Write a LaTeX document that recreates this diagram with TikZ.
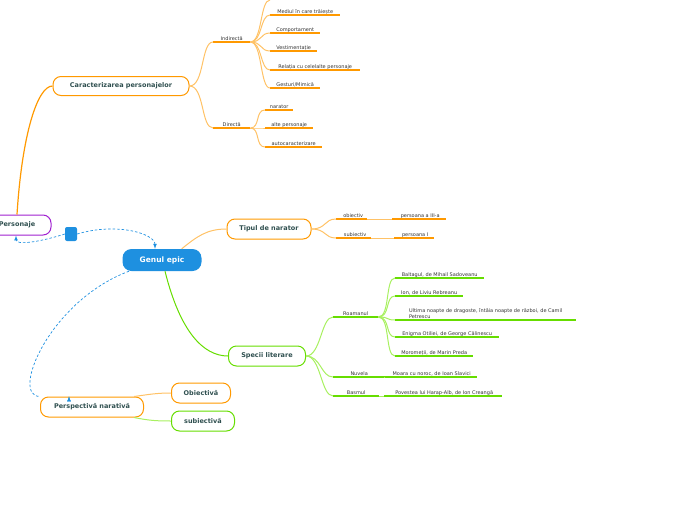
\documentclass[tikz,border=0pt]{standalone}
\usepackage{fontspec}
\setmainfont{DejaVu Sans}
\begin{document}
\definecolor{org}{HTML}{FF9900}
\definecolor{orgl}{HTML}{FFC266}
\definecolor{grn}{HTML}{66DD00}
\definecolor{grnl}{HTML}{A8F060}
\definecolor{blu}{HTML}{1E90E0}
\definecolor{pur}{HTML}{A020D0}
\definecolor{txt}{HTML}{333333}
\definecolor{ntx}{HTML}{2F4F4F}
\newcommand{\leaf}[6]{%
  \node[lf,minimum width=#3pt-#2pt,anchor=south west] (#1) at (#2,-#4) {#5};
  \draw[#6,line width=1.3pt] (#1.south west) -- (#1.south east);}
\begin{tikzpicture}[x=1pt,y=1pt,
  lf/.style={font=\fontsize{5}{6}\selectfont,text=txt,inner sep=1.5pt,align=left,text depth=0pt},
  topic/.style={draw,rounded corners=8pt,line width=1pt,font=\bfseries\fontsize{6.5}{8}\selectfont,text=ntx,inner sep=0pt},
  bro/.style={orgl,line width=1pt},
  brg/.style={grnl,line width=1pt},
  dsh/.style={blu,dashed,line width=0.7pt,dash pattern=on 2.5pt off 2pt,-latex}]
\useasboundingbox (0,0) rectangle (697,-520);
% main
\node[fill=blu,rounded corners=9pt,minimum width=79pt,minimum height=22pt,text=white,font=\bfseries\fontsize{7.5}{9}\selectfont,inner sep=0pt] (g) at (162,-260) {Genul epic};
\node[topic,draw=pur,minimum width=68pt,minimum height=20pt] (p) at (17,-225) {Personaje};
\node[fill=blu,rounded corners=2pt,minimum width=12pt,minimum height=14pt,inner sep=0pt] (sq) at (71,-234) {};
\node[topic,draw=org,minimum width=136pt,minimum height=19pt] (c) at (121,-86) {Caracterizarea personajelor};
\node[topic,draw=org,minimum width=84pt,minimum height=20pt] (t) at (269,-229) {Tipul de narator};
\node[topic,draw=grn,minimum width=77pt,minimum height=20pt] (s) at (267,-356) {Specii literare};
\node[topic,draw=org,minimum width=103pt,minimum height=20pt] (pn) at (92,-407) {Perspectivă narativă};
\node[topic,draw=org,minimum width=59pt,minimum height=20pt] (ob) at (201,-393) {Obiectivă};
\node[topic,draw=grn,minimum width=63pt,minimum height=20pt] (sb) at (203,-421) {subiectivă};
% leaves
\leaf{ind}{213}{250}{42}{Indirectă}{org}
\leaf{dir}{213}{250}{128}{Directă}{org}
\coordinate (top) at (270,0);
\leaf{m}{270}{340}{15}{Mediul în care trăiește}{org}
\leaf{co}{270}{320}{33}{Comportament}{org}
\leaf{ve}{270}{317}{51}{Vestimentație}{org}
\leaf{re}{270}{360}{70}{Relația cu celelalte personaje}{org}
\leaf{ge}{270}{320}{88}{Gesturi/Mimică}{org}
\leaf{na}{265}{293}{110}{narator}{org}
\leaf{al}{265}{313}{128}{alte personaje}{org}
\leaf{au}{265}{322}{147}{autocaracterizare}{org}
\leaf{obj}{336}{367}{219}{\hspace*{3pt}obiectiv}{org}
\leaf{p3}{392}{446}{219}{\hspace*{2pt}persoana a III-a}{org}
\leaf{sub}{336}{371}{238}{\hspace*{3pt}subiectiv}{org}
\leaf{p1}{394}{434}{238}{\hspace*{2pt}persoana I}{org}
\leaf{ro}{333}{378}{317}{Roamanul}{grn}
\leaf{ba}{395}{484}{278}{Baltagul, de Mihail Sadoveanu}{grn}
\leaf{io}{395}{463}{296}{Ion, de Liviu Rebreanu}{grn}
\leaf{ul}{395}{576}{320}{Ultima noapte de dragoste, întâia noapte de război, de Camil\\Petrescu}{grn}
\leaf{en}{395}{499}{337}{Enigma Otiliei, de George Călinescu}{grn}
\leaf{mo}{395}{473}{356}{Moromeții, de Marin Preda}{grn}
\leaf{nu}{333}{385}{377}{Nuvela}{grn}
\leaf{mc}{384}{477}{377}{\hspace*{2pt}Moara cu noroc, de Ioan Slavici}{grn}
\leaf{bs}{333}{379}{396}{Basmul}{grn}
\leaf{pv}{384}{502}{396}{\hspace*{2pt}Povestea lui Harap-Alb, de Ion Creangă}{grn}
% branches
\draw[org,line width=1.2pt] (p.north) .. controls +(5,80) and +(-15,0) .. (c.west);
\foreach \a in {ind,dir}
  \draw[bro] (c.east) .. controls +(15,0) and +(-12,0) .. (\a.south west);
\foreach \a in {top,m,co,ve,re,ge}
  \draw[bro] (ind.south east) .. controls +(12,0) and +(-10,0) .. (\a.south west);
\foreach \a in {na,al,au}
  \draw[bro] (dir.south east) .. controls +(10,0) and +(-10,0) .. (\a.south west);
\draw[bro] (g.north east) ++(-20,0) .. controls +(15,12) and +(-20,0) .. (t.west);
\draw[grn,line width=1pt] (g.south) ++(3,0) .. controls +(15,-60) and +(-25,0) .. (s.west);
\foreach \a in {obj,sub}
  \draw[bro] (t.east) .. controls +(15,0) and +(-12,0) .. (\a.south west);
\draw[bro] (obj.south east) -- (p3.south west);
\draw[bro] (sub.south east) -- (p1.south west);
\foreach \a in {ro,nu,bs}
  \draw[brg] (s.east) .. controls +(15,0) and +(-12,0) .. (\a.south west);
\foreach \a in {ba,io,ul,en,mo}
  \draw[brg] (ro.south east) .. controls +(12,0) and +(-10,0) .. (\a.south west);
\draw[brg] (nu.south east) -- (mc.south west);
\draw[brg] (bs.south east) -- (pv.south west);
\draw[bro] (pn.north east) ++(-10,0) .. controls +(15,2) and +(-15,0) .. (ob.west);
\draw[brg] (pn.south east) ++(-10,0) .. controls +(15,-3) and +(-15,0) .. (sb.west);
% dashed relations
\draw[dsh] (sq.east) .. controls +(40,12) and +(0,15) .. ([xshift=-7pt]g.north);
\draw[dsh] (sq.west) .. controls +(-25,-8) and +(0,-10) .. ([xshift=-1pt]p.south);
\draw[dsh,latex-latex] ([xshift=-33pt]g.south) .. controls +(-80,-30) and +(-30,0) .. (pn.north west) ++(29,0);
\end{tikzpicture}
\end{document}
